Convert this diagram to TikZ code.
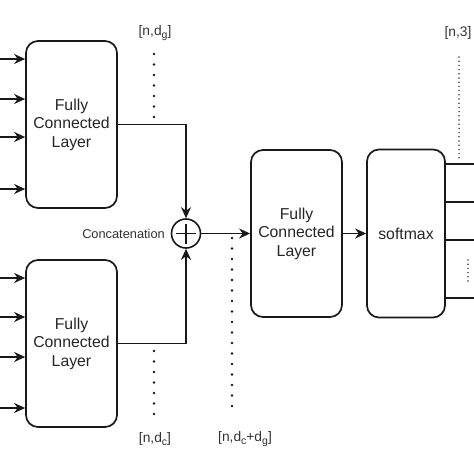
\documentclass[tikz,border=0pt]{standalone}
\usepackage{fontspec}
\setmainfont{Liberation Sans}
\usetikzlibrary{arrows.meta}
\newcommand{\lowix}[1]{\raisebox{-2.5pt}{\fontsize{10.5}{10.5}\selectfont #1}}
\tikzset{
  layerbox/.style={draw=black!90, line width=1.7pt, rounded corners=12pt, inner sep=0pt,
    align=center, font=\fontsize{15.8}{18.5}\selectfont, text=black!85},
  conn/.style={draw=black!90, line width=1.6pt},
  arr/.style={conn, -{Stealth[length=11pt,width=10pt,inset=3.5pt]}},
  bigdots/.style={line width=2.8pt, line cap=round, dash pattern=on 0pt off 10.5pt, black!90},
  smalldots/.style={line width=1.7pt, line cap=round, dash pattern=on 0pt off 4.2pt, black!75},
  lab/.style={font=\fontsize{13.8}{14}\selectfont, text=black!80, inner sep=0pt},
}
\begin{document}
\begin{tikzpicture}[x=1pt,y=-1pt]
\useasboundingbox (0,0) rectangle (474,474);
\fill[white] (0,0) rectangle (474,474);

% boxes
\node[layerbox, minimum width=91pt, minimum height=167pt] (fc1) at (71.5,124.5) {Fully\\Connected\\Layer};
\node[layerbox, minimum width=91pt, minimum height=167pt] (fc2) at (71.5,343.5) {Fully\\Connected\\Layer};
\node[layerbox, minimum width=91pt, minimum height=167pt] (fc3) at (296.5,233.5) {Fully\\Connected\\Layer};
\node[layerbox, minimum width=78pt, minimum height=168pt] (soft) at (406,233.5) {softmax};

% concatenation circle
\node[draw=black!90, line width=1.6pt, circle, minimum size=29pt, inner sep=0pt] (plus) at (186,233.5) {};
\draw[line width=1.6pt, black!90] ([xshift=-10pt]plus.center) -- ([xshift=10pt]plus.center)
  ([yshift=-10pt]plus.center) -- ([yshift=10pt]plus.center);
\node[lab, anchor=east, font=\fontsize{12.8}{13}\selectfont] (concat) at (165,233.5) {Concatenation};

% inputs
\foreach \i/\y in {1/59,2/99,3/137,4/189} {
  \coordinate (ina\i) at (0,\y);
  \draw[arr] (ina\i) -- (fc1.west |- ina\i);
}
\foreach \i/\y in {1/278,2/317,3/357,4/408} {
  \coordinate (inb\i) at (0,\y);
  \draw[arr] (inb\i) -- (fc2.west |- inb\i);
}

% connections
\draw[arr] (fc1.east) -| (plus.north);
\draw[arr] (fc2.east) -| (plus.south);
\draw[arr] (plus.east) -- (fc3.west);
\draw[arr] (fc3.east) -- (soft.west);

% outputs
\foreach \i/\y in {1/164,2/202,3/240,4/298} {
  \coordinate (out\i) at (474,\y);
  \draw[conn] (soft.east |- out\i) -- (out\i);
}

% dotted dimension markers
\coordinate (dg1) at (154,54); \coordinate (dg2) at (154,118);
\draw[bigdots] (dg1) -- (dg2);
\coordinate (dc1) at (154,351); \coordinate (dc2) at (154,415);
\draw[bigdots] (dc1) -- (dc2);
\coordinate (dm1) at (232,238); \coordinate (dm2) at (232,415);
\draw[bigdots] (dm1) -- (dm2);
\coordinate (d31) at (459,57); \coordinate (d32) at (459,158);
\draw[smalldots] (d31) -- (d32);
\coordinate (ds1) at (468,260); \coordinate (ds2) at (468,284);
\draw[smalldots] (ds1) -- (ds2);

% labels
\node[lab] (lg) at (155,33) {[n,d\lowix{g}]};
\node[lab] (lc) at (155,439) {[n,d\lowix{c}]};
\node[lab] (lcg) at (245,439) {[n,d\lowix{c}+d\lowix{g}]};
\node[lab] (l3) at (458,33) {[n,3]};
\end{tikzpicture}
\end{document}
